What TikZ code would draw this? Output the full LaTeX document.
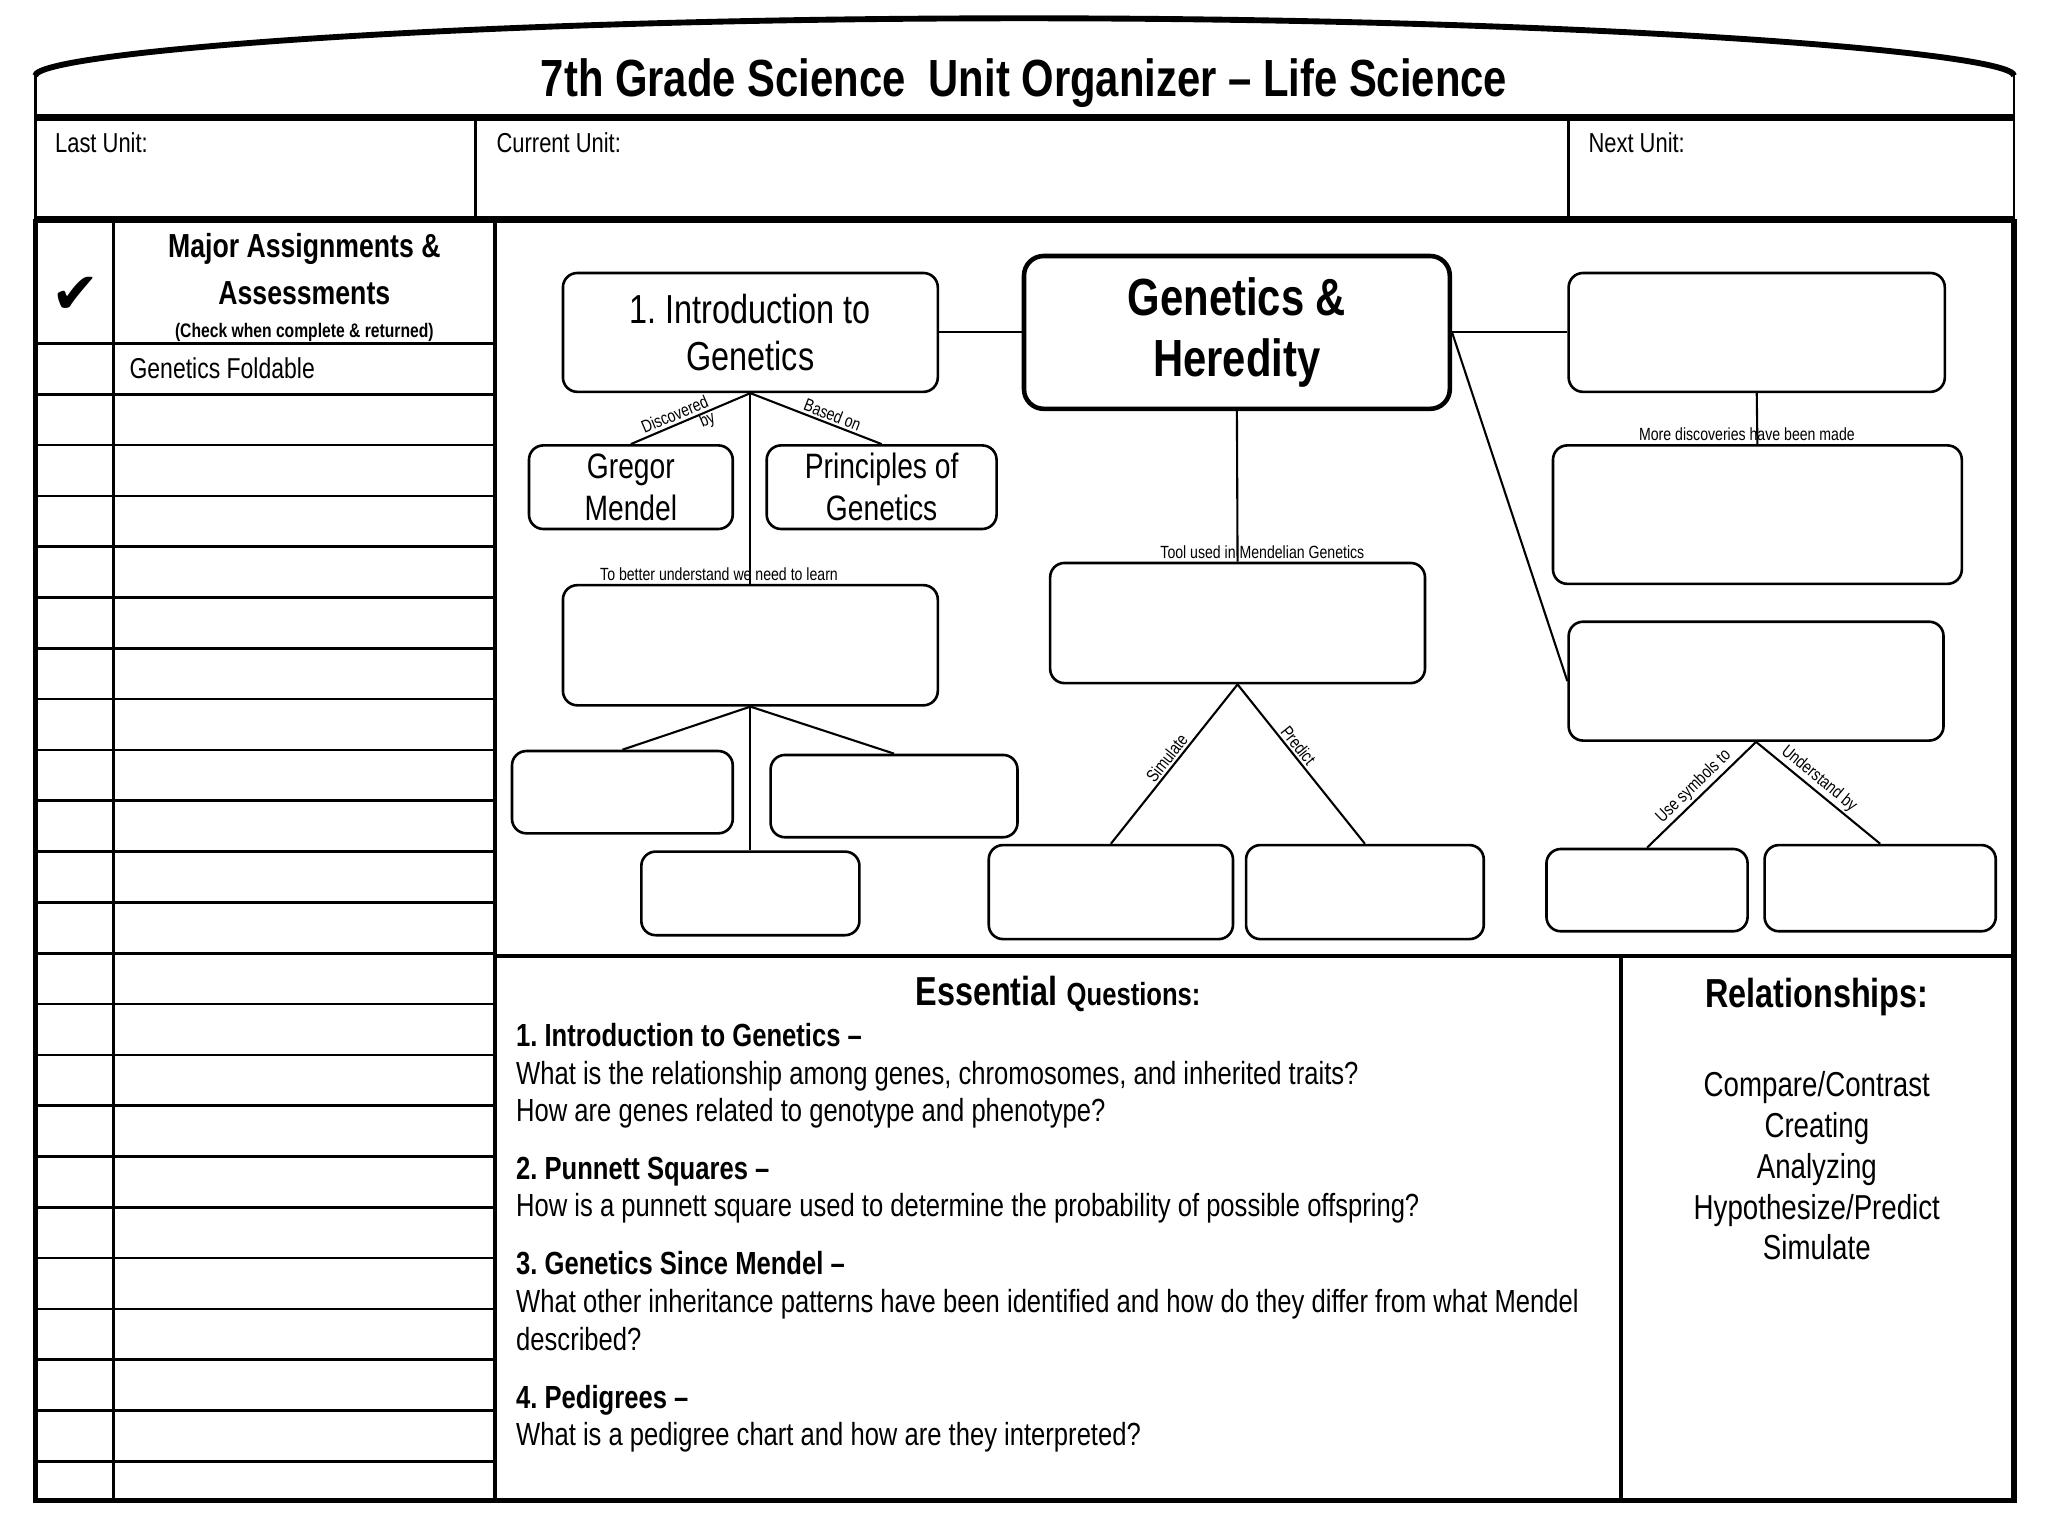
\documentclass[tikz,border=0pt]{standalone}
\usepackage{fontspec}
\setmainfont{Liberation Sans}[FakeStretch=0.8]
\newfontfamily\symfont{DejaVu Sans}
\usetikzlibrary{positioning}
\frenchspacing

\tikzset{
  box/.style={draw, rounded corners=11pt, line width=2pt, align=center, inner sep=0pt},
  link/.style={line width=1.6pt},
  lbl/.style={font=\fontsize{13.5}{13}\selectfont, inner sep=1.5pt},
  heavy/.style={line width=4.5pt},
  rule/.style={line width=2pt},
  unit/.style={font=\fontsize{21}{24}\selectfont, anchor=base west, inner sep=0pt},
  eq/.style={font=\fontsize{24.5}{29}\selectfont, anchor=base west, inner sep=0pt},
  rel/.style={font=\fontsize{26.5}{30}\selectfont, anchor=base, inner sep=0pt}
}

\begin{document}
\begin{tikzpicture}[x=1pt, y=-1pt]
\useasboundingbox (0,0) rectangle (1568,1176);
\fill[white] (0,0) rectangle (1568,1176);

% outer frame and title band
\draw[heavy] (27,58) .. controls (27,40) and (350,14) .. (784,14) .. controls (1218,14) and (1542,40) .. (1542,58);
\draw[rule] (27,56) -- (27,168) (1542,56) -- (1542,168);
\draw[line width=4pt] (27,168) -- (27,1149) -- (1542,1149) -- (1542,168);
\draw[line width=5pt] (27,90) -- (1542,90) (27,168) -- (1542,168);
\draw[rule] (364,90) -- (364,168) (1201,90) -- (1201,168);
\draw[line width=3.5pt] (379,168) -- (379,1149) (379,732) -- (1542,732);
\draw[line width=3pt] (1241,732) -- (1241,1149);

\node[font=\bfseries\fontsize{40}{44}\selectfont, anchor=base, inner sep=0pt] (title) at (784,74)
  {7th Grade Science\ \ Unit Organizer – Life Science};
\node[unit] (last) at (42,117) {Last Unit:};
\node[unit] (current) at (380,117) {Current Unit:};
\node[unit] (next) at (1216,117) {Next Unit:};

% assignments table
\draw[rule] (87,170) -- (87,1149);
\foreach \k in {0,...,22}
  \draw[rule] (27,263+38.9*\k) -- (379,263+38.9*\k);
\node[font=\symfont\fontsize{44}{44}\selectfont, inner sep=0pt] (tick) at (58,226) {✔};
\node[font=\bfseries\fontsize{25.5}{30}\selectfont, anchor=base, inner sep=0pt] (major) at (233,197) {Major Assignments \&};
\node[font=\bfseries\fontsize{25.5}{30}\selectfont, anchor=base, inner sep=0pt] (assess) at (233,233) {Assessments};
\node[font=\bfseries\fontsize{15}{17}\selectfont, anchor=base, inner sep=0pt] (note) at (233,258.5) {(Check when complete \& returned)};
\node[font=\fontsize{22}{24}\selectfont, anchor=base west, inner sep=0pt] (fold) at (99,290) {Genetics Foldable};

% concept map
\node[box, minimum width=287pt, minimum height=91pt, font=\fontsize{31}{36}\selectfont] (intro) at (574.5,254.5) {1. Introduction to\\Genetics};
\node[box, line width=3.5pt, rounded corners=15pt, minimum width=326pt, minimum height=117pt, font=\bfseries\fontsize{40}{47}\selectfont] (main) at (947,254.5) {Genetics \&\\Heredity};
\node[box, minimum width=288pt, minimum height=91pt] (rtop) at (1345,254.5) {};
\node[box, minimum width=313pt, minimum height=106pt] (rmid) at (1345.5,394) {};
\node[box, minimum width=287pt, minimum height=91pt] (rlow) at (1344.5,521.5) {};
\node[box, minimum width=154pt, minimum height=63pt] (rsym) at (1261,681.5) {};
\node[box, minimum width=177pt, minimum height=66pt] (rund) at (1439.5,680) {};
\node[box, minimum width=156pt, minimum height=64pt, font=\fontsize{27}{32}\selectfont] (mendel) at (483,373) {Gregor\\Mendel};
\node[box, minimum width=176pt, minimum height=64pt, font=\fontsize{27}{32}\selectfont] (princ) at (675,373) {Principles of\\Genetics};
\node[box, minimum width=287pt, minimum height=92pt] (learn) at (574.5,494) {};
\node[box, minimum width=169pt, minimum height=63pt] (la) at (476.5,606.5) {};
\node[box, minimum width=189pt, minimum height=63pt] (lb) at (684.5,609.5) {};
\node[box, minimum width=167pt, minimum height=64pt] (lc) at (574.5,684) {};
\node[box, minimum width=287pt, minimum height=92pt] (tool) at (947.5,477) {};
\node[box, minimum width=187pt, minimum height=72pt] (sim) at (850.5,683) {};
\node[box, minimum width=182pt, minimum height=72pt] (pred) at (1045,683) {};

\draw[link] (intro.east) -- (main.west);
\draw[link] (main.east) -- (rtop.west);
\draw[link] (main.east) -- (rlow.west);
\draw[link] (rtop.south) -- node[lbl, pos=1, above, xshift=-8pt] {More discoveries have been made} (rmid.north);
\draw[link] (main.south) -- node[lbl, pos=1, above, xshift=19pt] {Tool used in Mendelian Genetics} (tool.north);
\draw[link] (intro.south) -- node[lbl, pos=1, above, xshift=-24pt] {To better understand we need to learn} (learn.north);
\draw[link] (intro.south) -- node[lbl, sloped, pos=.6, align=right] {Discovered\\by} (mendel.north);
\draw[link] (intro.south) -- node[lbl, sloped, pos=.6, above] {Based on} (princ.north);
\draw[link] (learn.south) -- (la.north);
\draw[link] (learn.south) -- (lb.north);
\draw[link] (learn.south) -- (lc.north);
\draw[link] (tool.south) -- node[lbl, sloped, pos=.5, above] {Simulate} (sim.north);
\draw[link] (tool.south) -- node[lbl, sloped, pos=.42, above] {Predict} (pred.north);
\draw[link] (rlow.south) -- node[lbl, sloped, pos=.5, above] {Use symbols to} (rsym.north);
\draw[link] (rlow.south) -- node[lbl, sloped, pos=.45, above] {Understand by} (rund.north);

% essential questions
\node[anchor=base, inner sep=0pt] (eqhead) at (810,770)
  {\bfseries\fontsize{31}{34}\selectfont Essential \fontsize{24.5}{28}\selectfont Questions:};
\foreach \yy/\txt [count=\i] in {801/{1. Introduction to Genetics –}, 903/{2. Punnett Squares –},
    976/{3. Genetics Since Mendel –}, 1078/{4. Pedigrees –}}
  \node[eq, font=\bfseries\fontsize{24.5}{29}\selectfont] (eqtopic\i) at (395,\yy) {\txt};
\foreach \yy/\txt [count=\i] in {
    830/{What is the relationship among genes, chromosomes, and inherited traits?},
    859/{How are genes related to genotype and phenotype?},
    931/{How is a punnett square used to determine the probability of possible offspring?},
    1005/{What other inheritance patterns have been identified and how do they differ from what Mendel},
    1034/{described?},
    1107/{What is a pedigree chart and how are they interpreted?}}
  \node[eq] (eqline\i) at (395,\yy) {\txt};

% relationships
\node[font=\bfseries\fontsize{31}{34}\selectfont, anchor=base, inner sep=0pt] (relhead) at (1391,771) {Relationships:};
\foreach \yy/\txt [count=\i] in {839.5/{Compare/Contrast}, 870.5/{Creating}, 902.5/{Analyzing},
    933.5/{Hypothesize/Predict}, 964.5/{Simulate}}
  \node[rel] (rel\i) at (1391,\yy) {\txt};
\end{tikzpicture}
\end{document}
